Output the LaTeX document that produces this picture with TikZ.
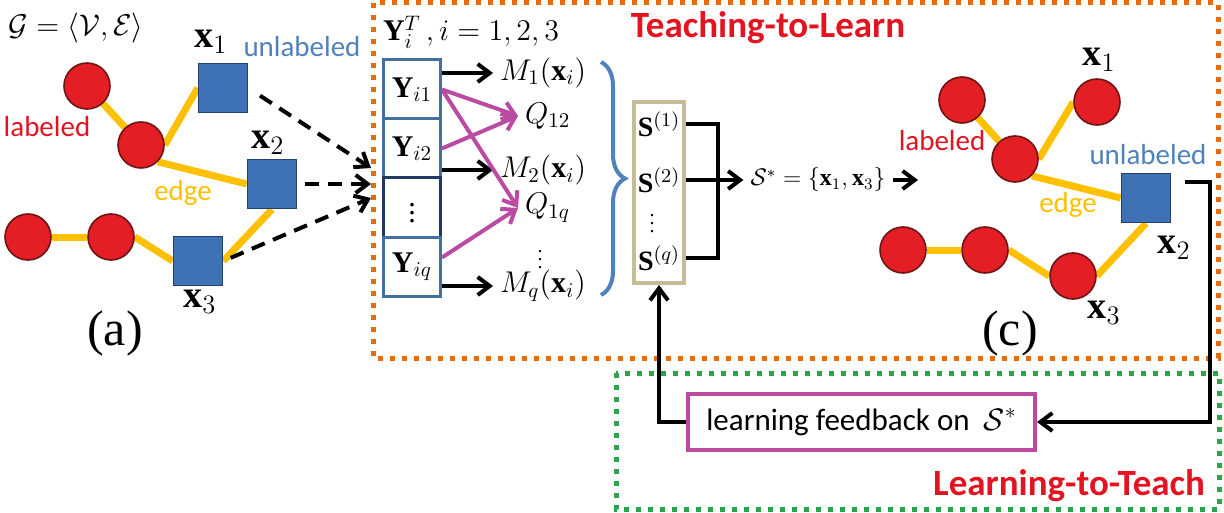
\RequirePackage{fix-cm}
\documentclass[tikz,border=0pt]{standalone}
\usepackage{fontspec}
\setmainfont{Liberation Serif}
\newfontfamily\calibri{Carlito}
\newfontfamily\timesfont{Liberation Serif}
\usetikzlibrary{arrows.meta,positioning,backgrounds,decorations.pathreplacing}
\definecolor{nodered}{RGB}{227,30,36}
\definecolor{noderedline}{RGB}{110,20,20}
\definecolor{nodeblue}{RGB}{62,114,181}
\definecolor{nodeblueline}{RGB}{36,64,110}
\definecolor{edgeyellow}{RGB}{255,192,0}
\definecolor{textred}{RGB}{226,20,34}
\definecolor{textblue}{RGB}{79,129,189}
\definecolor{boxblue}{RGB}{65,113,156}
\definecolor{boxnavy}{RGB}{31,56,100}
\definecolor{pathmagenta}{RGB}{186,75,160}
\definecolor{setkhaki}{RGB}{196,189,151}
\definecolor{dotorange}{RGB}{228,108,10}
\definecolor{dotgreen}{RGB}{40,165,70}
\newcommand\szmath{\fontsize{15}{18}\selectfont}
\newcommand\szlabel{\calibri\fontsize{14.5}{17}\selectfont}
\newcommand\szx{\fontsize{19}{22}\selectfont}
\newcommand\szcap{\timesfont\fontsize{25}{28}\selectfont}
\newcommand\szset{\fontsize{14}{16}\selectfont}
\newcommand\szstar{\fontsize{12}{14}\selectfont}
\newcommand\szdots{\fontsize{10}{12}\selectfont}
\newcommand\szfeed{\calibri\fontsize{15.5}{18}\selectfont}
\newcommand\sztitle{\calibri\bfseries\fontsize{18.5}{22}\selectfont}

\begin{document}
\begin{tikzpicture}[x=0.5pt,y=-0.5pt,
        >={Straight Barb[length=6pt,width=9pt]},
        rednode/.style={circle,fill=nodered,draw=noderedline,line width=0.8pt,minimum size=23pt,inner sep=0pt},
        bluenode/.style={rectangle,fill=nodeblue,draw=nodeblueline,line width=0.8pt,minimum size=24.5pt,inner sep=0pt},
        graphedge/.style={draw=edgeyellow,line width=3.5pt},
        tag/.style={font=\szlabel},
        ybox/.style={draw=boxblue,line width=1.5pt,minimum width=28.5pt,minimum height=29.5pt,inner sep=0pt,font=\szmath},
        flow/.style={->,line width=2pt},
        pairflow/.style={->,line width=2pt,draw=pathmagenta},
        inflow/.style={->,line width=2pt,dash pattern=on 7pt off 4.5pt,shorten <=4pt},
        dotbox/.style={line width=2.5pt,dash pattern=on 2.5pt off 3.5pt}]
        \useasboundingbox (0,0) rectangle (1224,513);
        \draw[dotbox,dotorange] (373,3) rectangle (1218,358);
        \draw[dotbox,dotgreen] (616,373) rectangle (1219,509);
        % (a) input graph
        \node[font=\szmath] (graphname) at (76,28) {$\mathcal{G}=\langle\mathcal{V},\mathcal{E}\rangle$};
        \node[rednode] (a1) at (87,86) {};
        \node[rednode] (a2) at (141,145) {};
        \node[rednode] (a3) at (28,237) {};
        \node[rednode] (a4) at (111,237) {};
        \node[bluenode] (ax1) at (223,88) {};
        \node[bluenode] (ax2) at (272,184) {};
        \node[bluenode] (ax3) at (198,261) {};
        \begin{scope}[on background layer]
        \draw[graphedge] (a1) -- (a2);
        \draw[graphedge] (a2.east) -- (ax1.west);
        \draw[graphedge] (a2.south east) -- (ax2.west);
        \draw[graphedge] (a3) -- (a4);
        \draw[graphedge] (a4.east) -- (ax3.west);
        \draw[graphedge] (ax3.east) -- (ax2.south);
        \end{scope}
        \node[font=\szx] (ax1lab) at (211,42) {$\mathbf{x}_1$};
        \node[tag,textblue] (aunlab) at (302,47) {unlabeled};
        \node[tag,textred] (alab) at (47,127) {labeled};
        \node[font=\szx] (ax2lab) at (268,143) {$\mathbf{x}_2$};
        \node[tag,edgeyellow] (aedge) at (183,193) {edge};
        \node[font=\szx] (ax3lab) at (200,302) {$\mathbf{x}_3$};
        \node[font=\szcap] (acap) at (115,333) {(a)};
        \coordinate (in1) at (371,168);
        \coordinate (in2) at (371,184);
        \coordinate (in3) at (371,198);
        \draw[inflow,shorten <=7pt] (ax1.east) -- (in1);
        \draw[inflow] (ax2.east) -- (in2);
        \draw[inflow] (ax3.east) -- (in3);
        % (b) teaching
        \node[font=\szmath] (ytitle) at (471,32) {$\mathbf{Y}_i^T\,, i=1,2,3$};
        \node[ybox] (y1) at (412,89.5) {$\mathbf{Y}_{i1}$};
        \node[ybox,below=-1.5pt of y1] (y2) {$\mathbf{Y}_{i2}$};
        \node[ybox,draw=boxnavy,below=-1.5pt of y2] (y3) {$\vdots$};
        \node[ybox,below=-1.5pt of y3] (yq) {$\mathbf{Y}_{iq}$};
        \node[font=\szmath,anchor=west] (m1) at (493,73) {$M_1(\mathbf{x}_i)$};
        \node[font=\szmath,anchor=west] (q12) at (518,116) {$Q_{12}$};
        \node[font=\szmath,anchor=west] (m2) at (493,170) {$M_2(\mathbf{x}_i)$};
        \node[font=\szmath,anchor=west] (q1q) at (518,208) {$Q_{1q}$};
        \node[font=\szdots] (mdots) at (540,254) {$\vdots$};
        \node[font=\szmath,anchor=west] (mq) at (493,286) {$M_q(\mathbf{x}_i)$};
        \draw[flow] (y1.east |- m1.west) -- (m1.west);
        \draw[flow] (y2.east |- m2.west) -- (m2.west);
        \draw[flow] (yq.east |- mq.west) -- (mq.west);
        \draw[pairflow] (y1.east) -- (q12.west);
        \draw[pairflow] (y1.east) -- (q1q.west);
        \draw[pairflow] (y2.east) -- (q12.west);
        \draw[pairflow] ([yshift=4.5pt]yq.east) -- (q1q.west);
        \draw[decorate,decoration={brace,amplitude=12pt},draw=textblue,line width=2pt] (601,62) -- (601,295);
        \node[draw=setkhaki,line width=2pt,minimum width=25pt,minimum height=90.5pt] (sbox) at (659,192.5) {};
        \node[font=\szset] (s1) at (659,124) {$\mathbf{S}^{(1)}$};
        \node[font=\szset] (s2) at (659,180) {$\mathbf{S}^{(2)}$};
        \node[font=\szdots] (sdots) at (652,218) {$\vdots$};
        \node[font=\szset] (sq) at (659,258) {$\mathbf{S}^{(q)}$};
        \coordinate (sjoin) at (718,180);
        \node[font=\szstar] (sstar) at (818,180) {$\mathcal{S}^*=\left\{\mathbf{x}_1,\mathbf{x}_3\right\}$};
        \coordinate (sout) at (918,180);
        \draw[line width=2pt] (s1 -| sbox.east) -| (sjoin);
        \draw[line width=2pt] (sq -| sbox.east) -| (sjoin);
        \draw[flow] (s2 -| sbox.east) -- (sstar.west);
        \draw[flow] (sstar.east) -- (sout);
        \node[font=\sztitle,textred] (t2l) at (768,28) {Teaching-to-Learn};
        % (c) selected examples labeled
        \node[rednode] (c1) at (962,100) {};
        \node[rednode] (cx1) at (1097,102) {};
        \node[rednode] (c2) at (1015,159) {};
        \node[rednode] (c3) at (903,250) {};
        \node[rednode] (c4) at (985,250) {};
        \node[rednode] (cx3) at (1073,276) {};
        \node[bluenode] (cx2) at (1146,198) {};
        \begin{scope}[on background layer]
        \draw[graphedge] (c1) -- (c2);
        \draw[graphedge] (c2.east) -- (cx1.west);
        \draw[graphedge] (c2.south east) -- (cx2.west);
        \draw[graphedge] (c3) -- (c4);
        \draw[graphedge] (c4.east) -- (cx3.west);
        \draw[graphedge] (cx3.east) -- (cx2.south);
        \end{scope}
        \node[font=\szx] (cx1lab) at (1099,60) {$\mathbf{x}_1$};
        \node[tag,textred] (clab) at (942,141) {labeled};
        \node[tag,textblue] (cunlab) at (1148,155) {unlabeled};
        \node[font=\szx] (cx2lab) at (1174,248) {$\mathbf{x}_2$};
        \node[tag,edgeyellow] (cedge) at (1068,205) {edge};
        \node[font=\szx] (cx3lab) at (1104,313) {$\mathbf{x}_3$};
        \node[font=\szcap] (ccap) at (1010,333) {(c)};
        % learning feedback
        \node[draw=pathmagenta,line width=2pt,minimum width=173.5pt,minimum height=28pt,font=\szfeed] (fb) at (861.5,422) {learning feedback on\ \ $\mathcal{S}^*$};
        \coordinate (fbstart) at (1185,182);
        \coordinate (fbcorner) at (1210,182);
        \draw[flow] (fbstart) -- (fbcorner) |- (fb.east);
        \draw[flow] (fb.west) -| (sbox.south);
        \node[font=\sztitle,textred,anchor=east] (l2t) at (1212,486) {Learning-to-Teach};
    \end{tikzpicture}
\end{document}
